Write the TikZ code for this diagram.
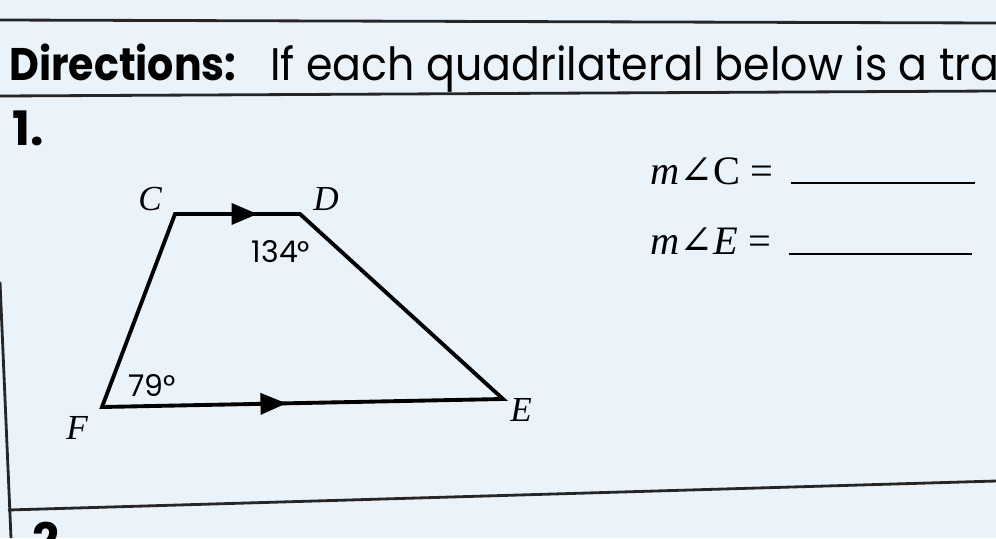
\documentclass[tikz,border=0pt]{standalone}
\usepackage{graphicx}
\usepackage{fontspec}
\setmainfont{Liberation Serif}
\newfontfamily\gothicfont{Poppins}
\newfontfamily\anglefont{DejaVu Serif}
\usetikzlibrary{arrows.meta,decorations.markings}

\definecolor{paper}{RGB}{234,243,250}

\tikzset{
    rule/.style={line width=1.6pt, black!85},
    edge/.style={line width=2.2pt, line join=miter},
    vlabel/.style={font=\fontsize{20}{20}\selectfont\itshape},
    anglelabel/.style={font=\gothicfont\fontsize{17}{17}\selectfont},
    question/.style={font=\fontsize{23}{23}\selectfont, anchor=base west, inner sep=0pt},
    parallel/.style={postaction={decorate, decoration={markings,
        mark=at position #1 with {\arrow{Triangle[length=5.2mm,width=4.2mm]}}}}},
}

\begin{document}
\begin{tikzpicture}[x=0.02cm, y=-0.02cm]
    \fill[paper] (0,0) rectangle (996,538);
    \useasboundingbox (0,0) rectangle (996,538);

    %% Sheet rules
    \coordinate (topL) at (0,20);
    \coordinate (topR) at (996,23);
    \coordinate (midL) at (0,96);
    \coordinate (midR) at (996,91);
    \coordinate (lowL) at (8,510);
    \coordinate (lowR) at (996,481);
    \coordinate (sideT) at (0,282);
    \coordinate (sideB) at (11,538);
    \draw[rule] (topL) -- (topR);
    \draw[rule] (midL) -- (midR);
    \draw[rule] (lowL) -- (lowR);
    \draw[rule] (sideT) -- (sideB);

    %% Heading and numbers
    \node[anchor=base west, inner sep=0pt, font=\gothicfont\fontsize{26}{26}\selectfont] (dirs) at (9,80)
        {\scalebox{0.9}[1]{\textbf{Directions:}}\hspace{0.68cm}\scalebox{0.935}[1]{If each quadrilateral below is a trap}};
    \node[anchor=base west, inner sep=0pt, font=\gothicfont\bfseries\fontsize{27}{27}\selectfont] (one) at (12,145) {1.};
    \node[anchor=base west, inner sep=0pt, font=\gothicfont\bfseries\fontsize{27}{27}\selectfont] (two) at (32,557) {2.};

    %% The trapezoid
    \coordinate (C) at (175,214);
    \coordinate (D) at (300,214);
    \coordinate (E) at (503,399);
    \coordinate (F) at (102,407);
    \draw[edge] (C) -- (D) -- (E) -- (F) -- cycle;
    \path[edge, parallel=0.66] (C) -- (D);
    \path[edge, parallel=0.46] (F) -- (E);

    \node[vlabel] (labC) at (150,199) {C};
    \node[vlabel] (labD) at (326,199) {D};
    \node[vlabel] (labE) at (521,410) {E};
    \node[vlabel] (labF) at (77,428) {F};
    \node[anglelabel] (angD) at (281,252) {134°};
    \node[anglelabel] (angF) at (152,385) {79°};

    %% Answers
    \node[question] (askC) at (650,184) {\textit{m}{\anglefont ∠}C =};
    \node[question] (askE) at (650,254) {\textit{m}{\anglefont ∠}\textit{E} =};
    \coordinate (blankCa) at (791,183);
    \coordinate (blankCb) at (975,183);
    \coordinate (blankEa) at (789,254);
    \coordinate (blankEb) at (972,254);
    \draw[line width=1.6pt] (blankCa) -- (blankCb);
    \draw[line width=1.6pt] (blankEa) -- (blankEb);
\end{tikzpicture}
\end{document}
